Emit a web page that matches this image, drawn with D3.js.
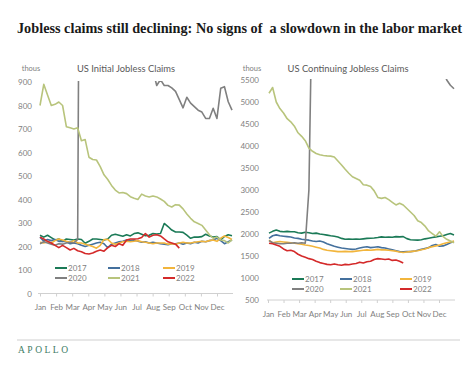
<!DOCTYPE html>
<html>
<head>
<meta charset="utf-8">
<script src="https://cdn.jsdelivr.net/npm/d3@7"></script>
<style>
  body { margin: 0; background: #fff; }
  svg { display: block; }
</style>
</head>
<body>
<svg id="chart" width="474" height="366"></svg>
<script>
// weekly data, thousands (week 0 = first week of Jan)
var months = ['Jan','Feb','Mar','Apr','May','Jun','Jul','Aug','Sep','Oct','Nov','Dec']
var years = ['2017','2018','2019','2020','2021','2022']
var colors = ['#1b7a57','#44709d','#f2b53c','#808080','#b8c47c','#d42a2a']

var initial2017 = [248,240,248,238,228,232,222,232,230,228,232,230,214,222,232,232,230,228,232,248,252,248,244,250,245,255,258,252,246,248,255,253,255,298,285,270,262,262,260,248,235,240,240,242,252,245,240,242,228,243,250,246]
var initial2018 = [240,222,230,225,230,222,222,220,212,215,212,205,200,205,210,215,218,212,195,210,215,220,222,228,225,228,222,218,220,215,218,215,212,210,208,212,212,215,210,215,212,218,215,222,220,225,228,235,225,212,220,228]
var initial2019 = [218,215,220,215,225,232,228,222,218,225,215,215,210,205,200,193,205,230,230,215,210,215,220,222,220,222,225,220,218,215,212,215,215,215,210,212,210,215,218,215,215,218,220,222,220,225,228,222,235,245,238,230]
var initial2020 = [212,220,215,210,205,212,210,215,218,215,230,3300,6800,6600,5200,4400,3800,3100,2700,2400,2100,1900,1550,1500,1450,1400,1300,1400,1200,1100,950,885,910,885,885,875,860,825,790,835,810,795,780,772,745,745,788,745,873,880,816,780]
var initial2021 = [800,890,845,800,805,815,800,710,705,700,705,650,655,580,570,568,540,505,485,460,440,428,430,425,412,405,400,423,415,411,415,411,402,392,375,368,378,376,360,338,320,305,298,290,270,250,235,240,228,225,215,228]
var initial2022 = [240,232,222,215,205,195,205,195,185,192,182,178,170,168,172,180,185,180,195,205,200,212,205,228,232,232,233,238,255,240,248,250,245,232,220,215,210,193]

var cont2017 = [2020,2060,2090,2060,2050,2060,2050,2050,2030,2020,2040,2030,2010,2020,2000,1990,1975,1960,1950,1930,1900,1880,1885,1880,1885,1880,1890,1900,1905,1910,1920,1935,1925,1930,1925,1940,1935,1940,1895,1870,1865,1860,1870,1890,1905,1920,1935,1950,1960,1990,2010,1980]
var cont2018 = [1900,1960,1980,1960,1950,1940,1930,1910,1900,1880,1870,1860,1840,1830,1840,1820,1780,1750,1720,1700,1680,1670,1660,1650,1660,1680,1700,1710,1690,1700,1710,1690,1680,1660,1640,1620,1600,1595,1600,1600,1610,1630,1650,1670,1690,1740,1760,1720,1730,1760,1800,1830]
var cont2019 = [1860,1800,1820,1830,1820,1810,1800,1790,1780,1770,1750,1740,1720,1700,1680,1650,1630,1620,1610,1600,1600,1605,1600,1600,1610,1620,1630,1640,1630,1640,1650,1640,1640,1630,1620,1610,1590,1580,1590,1600,1610,1620,1640,1660,1690,1710,1730,1750,1780,1800,1820,1840]
var cont2020 = [1850,1800,1790,1780,1780,1790,1790,1800,1790,1800,1790,3000,8000,12000,16000,18500,22000,22500,21000,20800,20500,19500,18500,17500,17000,16500,16100,16000,16000,15500,14600,13500,12800,12600,11800,10900,10000,8900,7800,7200,6800,6400,6100,6000,5800,5700,5800,5900,5700,5500,5380,5300]
var cont2021 = [5200,5330,5000,4850,4750,4620,4550,4450,4300,4220,4120,3950,3880,3830,3800,3785,3775,3770,3750,3660,3570,3470,3380,3300,3260,3220,3120,3110,3080,2980,2830,2810,2830,2780,2720,2660,2700,2660,2580,2500,2420,2300,2260,2180,2070,2010,1950,2050,1940,1880,1840,1800]
var cont2022 = [1790,1780,1750,1720,1660,1620,1630,1600,1540,1500,1470,1440,1420,1380,1350,1330,1310,1300,1320,1300,1290,1310,1300,1320,1330,1360,1340,1370,1380,1420,1440,1430,1420,1430,1400,1410,1380,1340]

var initialTicks = [0,100,200,300,400,500,600,700,800,900]
var contTicks = [500,1000,1500,2000,2500,3000,3500,4000,4500,5000,5500]

var svg = d3.select('#chart')
var grey = '#7f7f7f'
var tickFont = 'Lato, "Open Sans", sans-serif'

// main title
svg.append('text')
    .attr('x', 17).attr('y', 33)
    .attr('textLength', 445).attr('lengthAdjust', 'spacingAndGlyphs')
    .attr('xml:space', 'preserve')
    .style('font-family', '"Liberation Serif", "DejaVu Serif", serif')
    .style('font-weight', 'bold').style('font-size', '14.5px').style('fill', '#1a1a1a')
    .style('white-space', 'pre')
    .text('Jobless claims still declining: No signs of  a slowdown in the labor market')

function drawPanel(p){
    var g = svg.append('g')
    var x = d3.scaleLinear().domain([0, 51]).range([p.left, p.right])
    var y = d3.scaleLinear().domain(p.domain).range([p.bottom, p.top])
    var xm = d3.scalePoint().domain(months).range(p.monthRange)

    svg.append('defs').append('clipPath').attr('id', 'clip' + p.id)
        .append('rect')
        .attr('x', p.left - 2).attr('y', p.top - 1)
        .attr('width', p.right - p.left + 4).attr('height', p.bottom - p.top + 2)

    // "thous" and panel title
    g.append('text').attr('x', p.unitX).attr('y', 71)
        .attr('text-anchor', 'middle')
        .style('font-family', tickFont).style('font-size', '7.5px').style('fill', grey)
        .text('thous')
    g.append('text').attr('x', p.titleX).attr('y', 72)
        .attr('text-anchor', 'middle')
        .attr('textLength', p.titleW).attr('lengthAdjust', 'spacingAndGlyphs')
        .style('font-family', tickFont).style('font-size', '10px').style('fill', '#595959')
        .text(p.title)

    // y labels
    var ya = g.append('g').attr('transform', 'translate(' + p.labelX + ',0)')
        .call(d3.axisLeft(y).tickValues(p.ticks).tickFormat(d3.format('d')).tickSize(0).tickPadding(0))
    ya.select('.domain').remove()
    ya.selectAll('text').style('font-family', tickFont).style('font-size', '8px').style('fill', grey)

    // x axis
    g.append('line')
        .attr('x1', p.left - 2).attr('x2', p.right + 1)
        .attr('y1', y(p.domain[0])).attr('y2', y(p.domain[0]))
        .style('stroke', '#d0d0d0').style('stroke-width', 1)
    var xa = g.append('g').attr('transform', 'translate(0,' + y(p.domain[0]) + ')')
        .call(d3.axisBottom(xm).tickSize(3).tickPadding(p.monthPad))
    xa.select('.domain').remove()
    xa.selectAll('line').style('stroke', '#d0d0d0')
    xa.selectAll('text').style('font-family', tickFont).style('font-size', '8px').style('fill', grey)

    // series
    var line = d3.line()
        .x(function(d, i){ return x(i) })
        .y(function(d){ return y(d) })
    var plot = g.append('g').attr('clip-path', 'url(#clip' + p.id + ')')
    p.series.forEach(function(s, i){
        plot.append('path')
            .datum(s)
            .attr('d', line)
            .style('fill', 'none')
            .style('stroke', colors[i])
            .style('stroke-width', 1.6)
            .style('stroke-linejoin', 'round')
    })

    // legend
    years.forEach(function(yr, i){
        var lx = p.legendX[i % 3], ly = p.legendY[Math.floor(i / 3)]
        g.append('line').attr('x1', lx).attr('x2', lx + 12).attr('y1', ly).attr('y2', ly)
            .style('stroke', colors[i]).style('stroke-width', 2)
        g.append('text').attr('x', lx + 13).attr('y', ly + 3)
            .style('font-family', tickFont).style('font-size', '8px').style('fill', grey)
            .text(yr)
    })
}

drawPanel({
    id: 'a', title: 'US Initial Jobless Claims', titleX: 126, titleW: 98, unitX: 31,
    left: 40, right: 232, top: 82, bottom: 293.5, domain: [0, 900], ticks: initialTicks,
    labelX: 32, monthRange: [40, 217], monthPad: 8,
    series: [initial2017, initial2018, initial2019, initial2020, initial2021, initial2022],
    legendX: [55, 108, 163], legendY: [268, 278]
})

drawPanel({
    id: 'b', title: 'US Continuing Jobless Claims', titleX: 348, titleW: 121, unitX: 252,
    left: 269, right: 454, top: 80, bottom: 300, domain: [500, 5500], ticks: contTicks,
    labelX: 259, monthRange: [268, 439], monthPad: 8,
    series: [cont2017, cont2018, cont2019, cont2020, cont2021, cont2022],
    legendX: [292, 340, 400], legendY: [279, 289]
})

// footer
svg.append('line').attr('x1', 17).attr('x2', 460).attr('y1', 340).attr('y2', 340)
    .style('stroke', '#cfcfcf').style('stroke-width', 1)
svg.append('text').attr('x', 18).attr('y', 353)
    .attr('textLength', 50).attr('lengthAdjust', 'spacing')
    .style('font-family', '"Liberation Serif", serif').style('font-size', '9.5px')
    .style('fill', '#3f7d66')
    .text('APOLLO')
</script>
</body>
</html>
